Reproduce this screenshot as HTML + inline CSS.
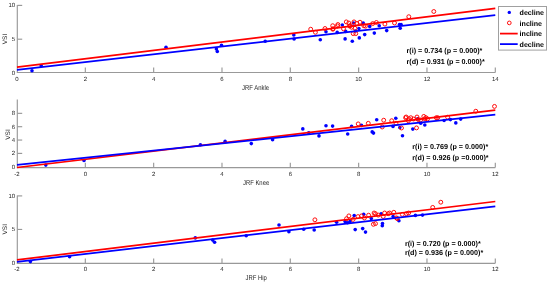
<!DOCTYPE html>
<html><head><meta charset="utf-8"><style>
html,body{margin:0;padding:0;background:#fff;}
body{width:550px;height:284px;overflow:hidden;}
svg{display:block;}
.tk{font-family:"Liberation Sans",Arial,sans-serif;font-size:6.0px;fill:#262626;}
.lb{font-family:"Liberation Sans",Arial,sans-serif;font-size:7px;fill:#262626;}
.vl{font-family:"Liberation Sans",Arial,sans-serif;font-size:6.5px;fill:#262626;}
text{text-rendering:geometricPrecision;}
.an{font-family:"Liberation Sans",Arial,sans-serif;font-size:7.2px;font-weight:bold;fill:#000;}
.lg{font-family:"Liberation Sans",Arial,sans-serif;font-size:7.1px;font-weight:bold;fill:#000;}
</style></head><body>
<svg width="550" height="284" viewBox="0 0 550 284">
<rect width="550" height="284" fill="#fff"/>
<path d="M17.3 4.9V72.45H495.3" fill="none" stroke="#999999" stroke-width="1.15"/>
<text x="15.1" y="74.90" text-anchor="end" class="tk">0</text>
<path d="M17.3 39.20H22.2" stroke="#999999" stroke-width="1.15"/>
<text x="15.1" y="41.10" text-anchor="end" class="tk">5</text>
<path d="M17.3 5.40H22.2" stroke="#999999" stroke-width="1.15"/>
<text x="15.1" y="7.30" text-anchor="end" class="tk">10</text>
<text x="17.00" y="80.85" text-anchor="middle" class="tk">0</text>
<path d="M85.33 72.45V67.55" stroke="#999999" stroke-width="1.15"/>
<text x="85.33" y="80.85" text-anchor="middle" class="tk">2</text>
<path d="M153.66 72.45V67.55" stroke="#999999" stroke-width="1.15"/>
<text x="153.66" y="80.85" text-anchor="middle" class="tk">4</text>
<path d="M221.99 72.45V67.55" stroke="#999999" stroke-width="1.15"/>
<text x="221.99" y="80.85" text-anchor="middle" class="tk">6</text>
<path d="M290.31 72.45V67.55" stroke="#999999" stroke-width="1.15"/>
<text x="290.31" y="80.85" text-anchor="middle" class="tk">8</text>
<path d="M358.64 72.45V67.55" stroke="#999999" stroke-width="1.15"/>
<text x="358.64" y="80.85" text-anchor="middle" class="tk">10</text>
<path d="M426.97 72.45V67.55" stroke="#999999" stroke-width="1.15"/>
<text x="426.97" y="80.85" text-anchor="middle" class="tk">12</text>
<path d="M495.30 72.45V67.55" stroke="#999999" stroke-width="1.15"/>
<text x="495.30" y="80.85" text-anchor="middle" class="tk">14</text>
<text x="255.6" y="89.8" text-anchor="middle" class="lb" textLength="27.0" lengthAdjust="spacingAndGlyphs">JRF Ankle</text>
<text transform="translate(6.8 39.05) rotate(-90)" text-anchor="middle" class="vl">VSI</text>
<circle cx="32.00" cy="70.80" r="1.8" fill="#0000ff"/>
<circle cx="41.20" cy="65.80" r="1.8" fill="#0000ff"/>
<circle cx="166.00" cy="47.30" r="1.8" fill="#0000ff"/>
<circle cx="216.40" cy="49.00" r="1.8" fill="#0000ff"/>
<circle cx="217.30" cy="51.50" r="1.8" fill="#0000ff"/>
<circle cx="221.50" cy="45.20" r="1.8" fill="#0000ff"/>
<circle cx="265.20" cy="41.30" r="1.8" fill="#0000ff"/>
<circle cx="293.80" cy="34.90" r="1.8" fill="#0000ff"/>
<circle cx="294.10" cy="39.00" r="1.8" fill="#0000ff"/>
<circle cx="320.30" cy="39.70" r="1.8" fill="#0000ff"/>
<circle cx="326.00" cy="31.80" r="1.8" fill="#0000ff"/>
<circle cx="337.20" cy="32.40" r="1.8" fill="#0000ff"/>
<circle cx="342.30" cy="25.00" r="1.8" fill="#0000ff"/>
<circle cx="345.70" cy="31.40" r="1.8" fill="#0000ff"/>
<circle cx="345.10" cy="38.90" r="1.8" fill="#0000ff"/>
<circle cx="352.30" cy="41.30" r="1.8" fill="#0000ff"/>
<circle cx="353.50" cy="23.00" r="1.8" fill="#0000ff"/>
<circle cx="358.90" cy="28.50" r="1.8" fill="#0000ff"/>
<circle cx="363.20" cy="23.10" r="1.8" fill="#0000ff"/>
<circle cx="369.70" cy="26.40" r="1.8" fill="#0000ff"/>
<circle cx="379.20" cy="25.70" r="1.8" fill="#0000ff"/>
<circle cx="364.70" cy="34.60" r="1.8" fill="#0000ff"/>
<circle cx="374.30" cy="33.10" r="1.8" fill="#0000ff"/>
<circle cx="359.30" cy="37.90" r="1.8" fill="#0000ff"/>
<circle cx="386.70" cy="30.60" r="1.8" fill="#0000ff"/>
<circle cx="399.50" cy="24.50" r="1.8" fill="#0000ff"/>
<circle cx="401.10" cy="24.50" r="1.8" fill="#0000ff"/>
<circle cx="400.20" cy="28.20" r="1.8" fill="#0000ff"/>
<circle cx="355.40" cy="31.00" r="1.8" fill="#0000ff"/>
<circle cx="310.70" cy="29.20" r="1.95" fill="none" stroke="#ff0000" stroke-width="0.95"/>
<circle cx="315.40" cy="32.30" r="1.95" fill="none" stroke="#ff0000" stroke-width="0.95"/>
<circle cx="325.00" cy="28.50" r="1.95" fill="none" stroke="#ff0000" stroke-width="0.95"/>
<circle cx="332.70" cy="25.70" r="1.95" fill="none" stroke="#ff0000" stroke-width="0.95"/>
<circle cx="332.70" cy="29.20" r="1.95" fill="none" stroke="#ff0000" stroke-width="0.95"/>
<circle cx="337.90" cy="24.50" r="1.95" fill="none" stroke="#ff0000" stroke-width="0.95"/>
<circle cx="343.50" cy="28.80" r="1.95" fill="none" stroke="#ff0000" stroke-width="0.95"/>
<circle cx="346.30" cy="21.90" r="1.95" fill="none" stroke="#ff0000" stroke-width="0.95"/>
<circle cx="348.80" cy="23.00" r="1.95" fill="none" stroke="#ff0000" stroke-width="0.95"/>
<circle cx="350.50" cy="25.70" r="1.95" fill="none" stroke="#ff0000" stroke-width="0.95"/>
<circle cx="354.00" cy="21.90" r="1.95" fill="none" stroke="#ff0000" stroke-width="0.95"/>
<circle cx="355.00" cy="28.30" r="1.95" fill="none" stroke="#ff0000" stroke-width="0.95"/>
<circle cx="356.80" cy="23.40" r="1.95" fill="none" stroke="#ff0000" stroke-width="0.95"/>
<circle cx="353.20" cy="33.60" r="1.95" fill="none" stroke="#ff0000" stroke-width="0.95"/>
<circle cx="355.80" cy="33.60" r="1.95" fill="none" stroke="#ff0000" stroke-width="0.95"/>
<circle cx="360.00" cy="22.20" r="1.95" fill="none" stroke="#ff0000" stroke-width="0.95"/>
<circle cx="363.90" cy="25.80" r="1.95" fill="none" stroke="#ff0000" stroke-width="0.95"/>
<circle cx="365.50" cy="26.20" r="1.95" fill="none" stroke="#ff0000" stroke-width="0.95"/>
<circle cx="372.70" cy="23.60" r="1.95" fill="none" stroke="#ff0000" stroke-width="0.95"/>
<circle cx="376.40" cy="22.50" r="1.95" fill="none" stroke="#ff0000" stroke-width="0.95"/>
<circle cx="384.90" cy="24.10" r="1.95" fill="none" stroke="#ff0000" stroke-width="0.95"/>
<circle cx="394.50" cy="23.00" r="1.95" fill="none" stroke="#ff0000" stroke-width="0.95"/>
<circle cx="408.80" cy="16.70" r="1.95" fill="none" stroke="#ff0000" stroke-width="0.95"/>
<circle cx="433.80" cy="11.50" r="1.95" fill="none" stroke="#ff0000" stroke-width="0.95"/>
<circle cx="351.60" cy="27.30" r="1.95" fill="none" stroke="#ff0000" stroke-width="0.95"/>
<circle cx="349.50" cy="26.00" r="1.95" fill="none" stroke="#ff0000" stroke-width="0.95"/>
<circle cx="333.10" cy="28.80" r="1.95" fill="none" stroke="#ff0000" stroke-width="0.95"/>
<circle cx="337.50" cy="25.90" r="1.95" fill="none" stroke="#ff0000" stroke-width="0.95"/>
<path d="M17.0 67.2L495.3 8.3" stroke="#ff0000" stroke-width="1.75"/>
<path d="M17.0 69.85L495.3 15.2" stroke="#0000ff" stroke-width="1.75"/>
<text x="406.5" y="53.4" class="an">r(i) = 0.734 (p = 0.000)*</text>
<text x="406.5" y="63.6" class="an">r(d) = 0.931 (p = 0.000)*</text>
<path d="M17.3 99.5V167.6H495.3" fill="none" stroke="#999999" stroke-width="1.15"/>
<text x="15.1" y="168.65" text-anchor="end" class="tk">0</text>
<path d="M17.3 153.40H22.2" stroke="#999999" stroke-width="1.15"/>
<text x="15.1" y="155.30" text-anchor="end" class="tk">2</text>
<path d="M17.3 140.05H22.2" stroke="#999999" stroke-width="1.15"/>
<text x="15.1" y="141.95" text-anchor="end" class="tk">4</text>
<path d="M17.3 126.70H22.2" stroke="#999999" stroke-width="1.15"/>
<text x="15.1" y="128.60" text-anchor="end" class="tk">6</text>
<path d="M17.3 113.35H22.2" stroke="#999999" stroke-width="1.15"/>
<text x="15.1" y="115.25" text-anchor="end" class="tk">8</text>
<text x="17.00" y="176.00" text-anchor="middle" class="tk">-2</text>
<path d="M85.33 167.6V162.7" stroke="#999999" stroke-width="1.15"/>
<text x="85.33" y="176.00" text-anchor="middle" class="tk">0</text>
<path d="M153.66 167.6V162.7" stroke="#999999" stroke-width="1.15"/>
<text x="153.66" y="176.00" text-anchor="middle" class="tk">2</text>
<path d="M221.99 167.6V162.7" stroke="#999999" stroke-width="1.15"/>
<text x="221.99" y="176.00" text-anchor="middle" class="tk">4</text>
<path d="M290.31 167.6V162.7" stroke="#999999" stroke-width="1.15"/>
<text x="290.31" y="176.00" text-anchor="middle" class="tk">6</text>
<path d="M358.64 167.6V162.7" stroke="#999999" stroke-width="1.15"/>
<text x="358.64" y="176.00" text-anchor="middle" class="tk">8</text>
<path d="M426.97 167.6V162.7" stroke="#999999" stroke-width="1.15"/>
<text x="426.97" y="176.00" text-anchor="middle" class="tk">10</text>
<path d="M495.30 167.6V162.7" stroke="#999999" stroke-width="1.15"/>
<text x="495.30" y="176.00" text-anchor="middle" class="tk">12</text>
<text x="256.1" y="184.8" text-anchor="middle" class="lb" textLength="26.2" lengthAdjust="spacingAndGlyphs">JRF Knee</text>
<text transform="translate(9.9 134.5) rotate(-90)" text-anchor="middle" class="vl">VSI</text>
<circle cx="45.80" cy="165.10" r="1.8" fill="#0000ff"/>
<circle cx="84.00" cy="160.50" r="1.8" fill="#0000ff"/>
<circle cx="200.40" cy="144.70" r="1.8" fill="#0000ff"/>
<circle cx="225.10" cy="141.40" r="1.8" fill="#0000ff"/>
<circle cx="251.30" cy="143.60" r="1.8" fill="#0000ff"/>
<circle cx="272.60" cy="139.80" r="1.8" fill="#0000ff"/>
<circle cx="302.80" cy="128.90" r="1.8" fill="#0000ff"/>
<circle cx="308.80" cy="132.70" r="1.8" fill="#0000ff"/>
<circle cx="319.00" cy="135.90" r="1.8" fill="#0000ff"/>
<circle cx="326.00" cy="125.70" r="1.8" fill="#0000ff"/>
<circle cx="332.60" cy="126.10" r="1.8" fill="#0000ff"/>
<circle cx="347.70" cy="134.00" r="1.8" fill="#0000ff"/>
<circle cx="351.60" cy="126.40" r="1.8" fill="#0000ff"/>
<circle cx="361.50" cy="125.40" r="1.8" fill="#0000ff"/>
<circle cx="372.20" cy="131.90" r="1.8" fill="#0000ff"/>
<circle cx="373.50" cy="133.10" r="1.8" fill="#0000ff"/>
<circle cx="376.70" cy="119.80" r="1.8" fill="#0000ff"/>
<circle cx="395.80" cy="118.30" r="1.8" fill="#0000ff"/>
<circle cx="393.00" cy="126.40" r="1.8" fill="#0000ff"/>
<circle cx="399.80" cy="127.60" r="1.8" fill="#0000ff"/>
<circle cx="402.50" cy="135.70" r="1.8" fill="#0000ff"/>
<circle cx="412.80" cy="129.10" r="1.8" fill="#0000ff"/>
<circle cx="417.60" cy="118.90" r="1.8" fill="#0000ff"/>
<circle cx="420.70" cy="123.20" r="1.8" fill="#0000ff"/>
<circle cx="424.80" cy="125.00" r="1.8" fill="#0000ff"/>
<circle cx="444.10" cy="120.50" r="1.8" fill="#0000ff"/>
<circle cx="450.40" cy="119.60" r="1.8" fill="#0000ff"/>
<circle cx="455.80" cy="122.90" r="1.8" fill="#0000ff"/>
<circle cx="460.70" cy="119.10" r="1.8" fill="#0000ff"/>
<circle cx="358.20" cy="123.90" r="1.95" fill="none" stroke="#ff0000" stroke-width="0.95"/>
<circle cx="368.30" cy="123.30" r="1.95" fill="none" stroke="#ff0000" stroke-width="0.95"/>
<circle cx="383.70" cy="120.20" r="1.95" fill="none" stroke="#ff0000" stroke-width="0.95"/>
<circle cx="382.20" cy="127.00" r="1.95" fill="none" stroke="#ff0000" stroke-width="0.95"/>
<circle cx="391.70" cy="120.70" r="1.95" fill="none" stroke="#ff0000" stroke-width="0.95"/>
<circle cx="396.00" cy="123.20" r="1.95" fill="none" stroke="#ff0000" stroke-width="0.95"/>
<circle cx="401.50" cy="128.00" r="1.95" fill="none" stroke="#ff0000" stroke-width="0.95"/>
<circle cx="405.60" cy="117.70" r="1.95" fill="none" stroke="#ff0000" stroke-width="0.95"/>
<circle cx="408.40" cy="120.70" r="1.95" fill="none" stroke="#ff0000" stroke-width="0.95"/>
<circle cx="410.80" cy="117.70" r="1.95" fill="none" stroke="#ff0000" stroke-width="0.95"/>
<circle cx="416.50" cy="127.90" r="1.95" fill="none" stroke="#ff0000" stroke-width="0.95"/>
<circle cx="417.00" cy="117.00" r="1.95" fill="none" stroke="#ff0000" stroke-width="0.95"/>
<circle cx="418.20" cy="119.50" r="1.95" fill="none" stroke="#ff0000" stroke-width="0.95"/>
<circle cx="423.80" cy="116.40" r="1.95" fill="none" stroke="#ff0000" stroke-width="0.95"/>
<circle cx="425.00" cy="118.90" r="1.95" fill="none" stroke="#ff0000" stroke-width="0.95"/>
<circle cx="427.50" cy="118.90" r="1.95" fill="none" stroke="#ff0000" stroke-width="0.95"/>
<circle cx="436.30" cy="117.70" r="1.95" fill="none" stroke="#ff0000" stroke-width="0.95"/>
<circle cx="437.70" cy="117.70" r="1.95" fill="none" stroke="#ff0000" stroke-width="0.95"/>
<circle cx="447.60" cy="117.20" r="1.95" fill="none" stroke="#ff0000" stroke-width="0.95"/>
<circle cx="475.80" cy="111.20" r="1.95" fill="none" stroke="#ff0000" stroke-width="0.95"/>
<circle cx="494.50" cy="106.40" r="1.95" fill="none" stroke="#ff0000" stroke-width="0.95"/>
<circle cx="413.50" cy="119.00" r="1.95" fill="none" stroke="#ff0000" stroke-width="0.95"/>
<circle cx="420.60" cy="120.00" r="1.95" fill="none" stroke="#ff0000" stroke-width="0.95"/>
<circle cx="425.80" cy="117.60" r="1.95" fill="none" stroke="#ff0000" stroke-width="0.95"/>
<circle cx="406.20" cy="117.00" r="1.95" fill="none" stroke="#ff0000" stroke-width="0.95"/>
<circle cx="408.90" cy="118.80" r="1.95" fill="none" stroke="#ff0000" stroke-width="0.95"/>
<path d="M17.0 167.5L495.3 110.1" stroke="#ff0000" stroke-width="1.75"/>
<path d="M17.0 164.9L495.3 114.7" stroke="#0000ff" stroke-width="1.75"/>
<text x="412.3" y="149.4" class="an">r(i) = 0.769 (p = 0.000)*</text>
<text x="412.3" y="159.8" class="an">r(d) = 0.926 (p =0.000)*</text>
<path d="M17.3 195.4V263.35H495.3" fill="none" stroke="#999999" stroke-width="1.15"/>
<text x="15.1" y="264.90" text-anchor="end" class="tk">0</text>
<path d="M17.3 229.45H22.2" stroke="#999999" stroke-width="1.15"/>
<text x="15.1" y="231.35" text-anchor="end" class="tk">5</text>
<path d="M17.3 195.90H22.2" stroke="#999999" stroke-width="1.15"/>
<text x="15.1" y="197.80" text-anchor="end" class="tk">10</text>
<text x="17.00" y="271.00" text-anchor="middle" class="tk">-2</text>
<path d="M85.33 263.35V258.45000000000005" stroke="#999999" stroke-width="1.15"/>
<text x="85.33" y="271.00" text-anchor="middle" class="tk">0</text>
<path d="M153.66 263.35V258.45000000000005" stroke="#999999" stroke-width="1.15"/>
<text x="153.66" y="271.00" text-anchor="middle" class="tk">2</text>
<path d="M221.99 263.35V258.45000000000005" stroke="#999999" stroke-width="1.15"/>
<text x="221.99" y="271.00" text-anchor="middle" class="tk">4</text>
<path d="M290.31 263.35V258.45000000000005" stroke="#999999" stroke-width="1.15"/>
<text x="290.31" y="271.00" text-anchor="middle" class="tk">6</text>
<path d="M358.64 263.35V258.45000000000005" stroke="#999999" stroke-width="1.15"/>
<text x="358.64" y="271.00" text-anchor="middle" class="tk">8</text>
<path d="M426.97 263.35V258.45000000000005" stroke="#999999" stroke-width="1.15"/>
<text x="426.97" y="271.00" text-anchor="middle" class="tk">10</text>
<path d="M495.30 263.35V258.45000000000005" stroke="#999999" stroke-width="1.15"/>
<text x="495.30" y="271.00" text-anchor="middle" class="tk">12</text>
<text x="256.1" y="280.0" text-anchor="middle" class="lb" textLength="21.3" lengthAdjust="spacingAndGlyphs">JRF Hip</text>
<text transform="translate(6.8 229.3) rotate(-90)" text-anchor="middle" class="vl">VSI</text>
<circle cx="30.40" cy="261.60" r="1.8" fill="#0000ff"/>
<circle cx="69.60" cy="256.80" r="1.8" fill="#0000ff"/>
<circle cx="195.30" cy="237.90" r="1.8" fill="#0000ff"/>
<circle cx="212.70" cy="240.10" r="1.8" fill="#0000ff"/>
<circle cx="214.60" cy="242.30" r="1.8" fill="#0000ff"/>
<circle cx="246.20" cy="235.80" r="1.8" fill="#0000ff"/>
<circle cx="279.00" cy="225.00" r="1.8" fill="#0000ff"/>
<circle cx="288.90" cy="231.70" r="1.8" fill="#0000ff"/>
<circle cx="303.70" cy="229.30" r="1.8" fill="#0000ff"/>
<circle cx="314.20" cy="230.00" r="1.8" fill="#0000ff"/>
<circle cx="336.60" cy="222.20" r="1.8" fill="#0000ff"/>
<circle cx="345.10" cy="221.50" r="1.8" fill="#0000ff"/>
<circle cx="347.50" cy="222.70" r="1.8" fill="#0000ff"/>
<circle cx="350.00" cy="221.50" r="1.8" fill="#0000ff"/>
<circle cx="354.20" cy="215.60" r="1.8" fill="#0000ff"/>
<circle cx="355.20" cy="229.60" r="1.8" fill="#0000ff"/>
<circle cx="362.70" cy="228.60" r="1.8" fill="#0000ff"/>
<circle cx="365.50" cy="232.10" r="1.8" fill="#0000ff"/>
<circle cx="363.70" cy="214.30" r="1.8" fill="#0000ff"/>
<circle cx="371.30" cy="218.60" r="1.8" fill="#0000ff"/>
<circle cx="381.10" cy="213.70" r="1.8" fill="#0000ff"/>
<circle cx="382.50" cy="223.60" r="1.8" fill="#0000ff"/>
<circle cx="382.30" cy="225.70" r="1.8" fill="#0000ff"/>
<circle cx="393.10" cy="216.50" r="1.8" fill="#0000ff"/>
<circle cx="398.90" cy="220.80" r="1.8" fill="#0000ff"/>
<circle cx="415.40" cy="215.40" r="1.8" fill="#0000ff"/>
<circle cx="422.50" cy="215.10" r="1.8" fill="#0000ff"/>
<circle cx="314.90" cy="219.80" r="1.95" fill="none" stroke="#ff0000" stroke-width="0.95"/>
<circle cx="346.50" cy="218.70" r="1.95" fill="none" stroke="#ff0000" stroke-width="0.95"/>
<circle cx="348.90" cy="215.90" r="1.95" fill="none" stroke="#ff0000" stroke-width="0.95"/>
<circle cx="353.10" cy="219.40" r="1.95" fill="none" stroke="#ff0000" stroke-width="0.95"/>
<circle cx="358.00" cy="216.60" r="1.95" fill="none" stroke="#ff0000" stroke-width="0.95"/>
<circle cx="361.50" cy="215.90" r="1.95" fill="none" stroke="#ff0000" stroke-width="0.95"/>
<circle cx="364.40" cy="218.00" r="1.95" fill="none" stroke="#ff0000" stroke-width="0.95"/>
<circle cx="368.60" cy="215.20" r="1.95" fill="none" stroke="#ff0000" stroke-width="0.95"/>
<circle cx="374.10" cy="213.00" r="1.95" fill="none" stroke="#ff0000" stroke-width="0.95"/>
<circle cx="375.50" cy="213.70" r="1.95" fill="none" stroke="#ff0000" stroke-width="0.95"/>
<circle cx="378.30" cy="215.10" r="1.95" fill="none" stroke="#ff0000" stroke-width="0.95"/>
<circle cx="383.20" cy="216.50" r="1.95" fill="none" stroke="#ff0000" stroke-width="0.95"/>
<circle cx="384.60" cy="213.00" r="1.95" fill="none" stroke="#ff0000" stroke-width="0.95"/>
<circle cx="388.20" cy="213.70" r="1.95" fill="none" stroke="#ff0000" stroke-width="0.95"/>
<circle cx="389.60" cy="213.00" r="1.95" fill="none" stroke="#ff0000" stroke-width="0.95"/>
<circle cx="393.80" cy="212.30" r="1.95" fill="none" stroke="#ff0000" stroke-width="0.95"/>
<circle cx="397.30" cy="218.60" r="1.95" fill="none" stroke="#ff0000" stroke-width="0.95"/>
<circle cx="402.30" cy="214.40" r="1.95" fill="none" stroke="#ff0000" stroke-width="0.95"/>
<circle cx="406.50" cy="213.70" r="1.95" fill="none" stroke="#ff0000" stroke-width="0.95"/>
<circle cx="408.60" cy="213.00" r="1.95" fill="none" stroke="#ff0000" stroke-width="0.95"/>
<circle cx="373.40" cy="224.30" r="1.95" fill="none" stroke="#ff0000" stroke-width="0.95"/>
<circle cx="375.50" cy="223.60" r="1.95" fill="none" stroke="#ff0000" stroke-width="0.95"/>
<circle cx="396.40" cy="217.90" r="1.95" fill="none" stroke="#ff0000" stroke-width="0.95"/>
<circle cx="432.70" cy="207.40" r="1.95" fill="none" stroke="#ff0000" stroke-width="0.95"/>
<circle cx="440.80" cy="202.20" r="1.95" fill="none" stroke="#ff0000" stroke-width="0.95"/>
<path d="M17.0 259.9L495.3 201.5" stroke="#ff0000" stroke-width="1.75"/>
<path d="M17.0 261.9L495.3 206.4" stroke="#0000ff" stroke-width="1.75"/>
<text x="404.9" y="245.9" class="an">r(i) = 0.720 (p = 0.000)*</text>
<text x="404.9" y="254.9" class="an">r(d) = 0.936 (p = 0.000)*</text>

<rect x="498.5" y="6.5" width="48" height="43.6" fill="#fff" stroke="#a0a0a0" stroke-width="1"/>
<circle cx="509.3" cy="12.4" r="1.7" fill="#0000ff"/>
<circle cx="509.3" cy="22.9" r="1.85" fill="none" stroke="#ff0000" stroke-width="0.95"/>
<path d="M500 33.6H517.7" stroke="#ff0000" stroke-width="1.75"/>
<path d="M500 44.1H517.7" stroke="#0000ff" stroke-width="1.75"/>
<text x="519.6" y="15.0" class="lg">decline</text>
<text x="519.6" y="25.5" class="lg">incline</text>
<text x="519.6" y="36.0" class="lg">incline</text>
<text x="519.6" y="46.5" class="lg">decline</text>

</svg>
</body></html>
